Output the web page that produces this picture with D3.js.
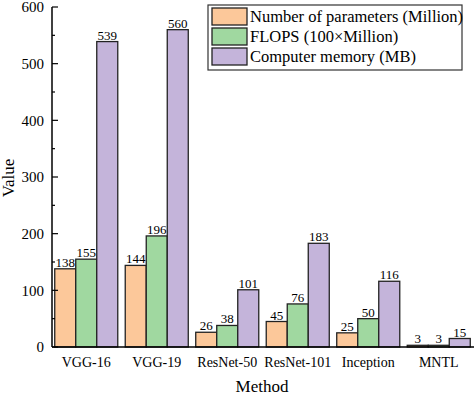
<!DOCTYPE html>
<html><head><meta charset="utf-8">
<script src="https://cdn.jsdelivr.net/npm/d3@7"></script>
<style>body{margin:0;background:#fff;} text{font-family:"Liberation Serif","Times New Roman",serif;fill:#000;}</style>
</head><body>
<svg id="c" width="474" height="399"></svg>
<script>
const categories = ["VGG-16","VGG-19","ResNet-50","ResNet-101","Inception","MNTL"];
const seriesNames = ["Number of parameters (Million)","FLOPS (100×Million)","Computer memory (MB)"];
const params = [138,144,26,45,25,3];
const flops = [155,196,38,76,50,3];
const memory = [539,560,101,183,116,15];
const yTicks = [0,100,200,300,400,500,600];
const colors = ["#FCC89A","#A0D8A0","#C4B4DA"];

const svg = d3.select("#c");
const x0 = 52, yTop = 7, yBot = 347;
const x = d3.scaleBand().domain(categories).range([51,474]).paddingInner(0.106).paddingOuter(0.053);
const xs = d3.scaleBand().domain([0,1,2]).range([0,x.bandwidth()]);
const y = d3.scaleLinear().domain([0,600]).range([yBot,yTop]);
const series = [params,flops,memory];

const g = svg.append("g");
series.forEach((vals,si)=>{
  categories.forEach((c,i)=>{
    const v = vals[i];
    g.append("rect").attr("x",x(c)+xs(si)).attr("y",y(v)).attr("width",xs.bandwidth()).attr("height",yBot-y(v))
      .attr("fill",colors[si]).attr("stroke","#222").attr("stroke-width",1.3);
    g.append("text").attr("x",x(c)+xs(si)+xs.bandwidth()/2).attr("y",y(v)-2).attr("text-anchor","middle")
      .attr("font-size",13).text(v);
  });
});

// y axis
const ya = svg.append("g").attr("transform",`translate(${x0},0)`);
ya.append("line").attr("x1",0).attr("x2",0).attr("y1",yTop).attr("y2",yBot).attr("stroke","#000").attr("stroke-width",1.5);
d3.range(0,601,50).forEach(v=>{
  const major = v%100===0;
  ya.append("line").attr("x1",0).attr("x2",major?6:3).attr("y1",y(v)).attr("y2",y(v)).attr("stroke","#000").attr("stroke-width",1.2);
});
yTicks.forEach(v=>{
  ya.append("text").attr("x",-8).attr("y",y(v)).attr("dy","0.35em").attr("text-anchor","end").attr("font-size",15).text(v);
});
// x axis
svg.append("line").attr("x1",x0).attr("x2",474).attr("y1",yBot).attr("y2",yBot).attr("stroke","#000").attr("stroke-width",1.5);
categories.forEach(c=>{
  svg.append("text").attr("x",x(c)+x.bandwidth()/2).attr("y",367).attr("text-anchor","middle").attr("font-size",14).text(c);
});
svg.append("text").attr("x",262).attr("y",392).attr("text-anchor","middle").attr("font-size",17).text("Method");
svg.append("text").attr("transform","translate(14,178) rotate(-90)").attr("text-anchor","middle").attr("font-size",17).text("Value");

// legend
const lg = svg.append("g");
lg.append("rect").attr("x",208).attr("y",5).attr("width",254).attr("height",65).attr("fill","#fff").attr("stroke","#333").attr("stroke-width",1.2);
seriesNames.forEach((n,i)=>{
  lg.append("rect").attr("x",212).attr("y",8+i*20).attr("width",35).attr("height",17).attr("fill",colors[i]).attr("stroke","#222").attr("stroke-width",1.3);
  lg.append("text").attr("x",250).attr("y",16.5+i*20).attr("dy","0.35em").attr("font-size",16.5).text(n);
});
</script>
</body></html>
